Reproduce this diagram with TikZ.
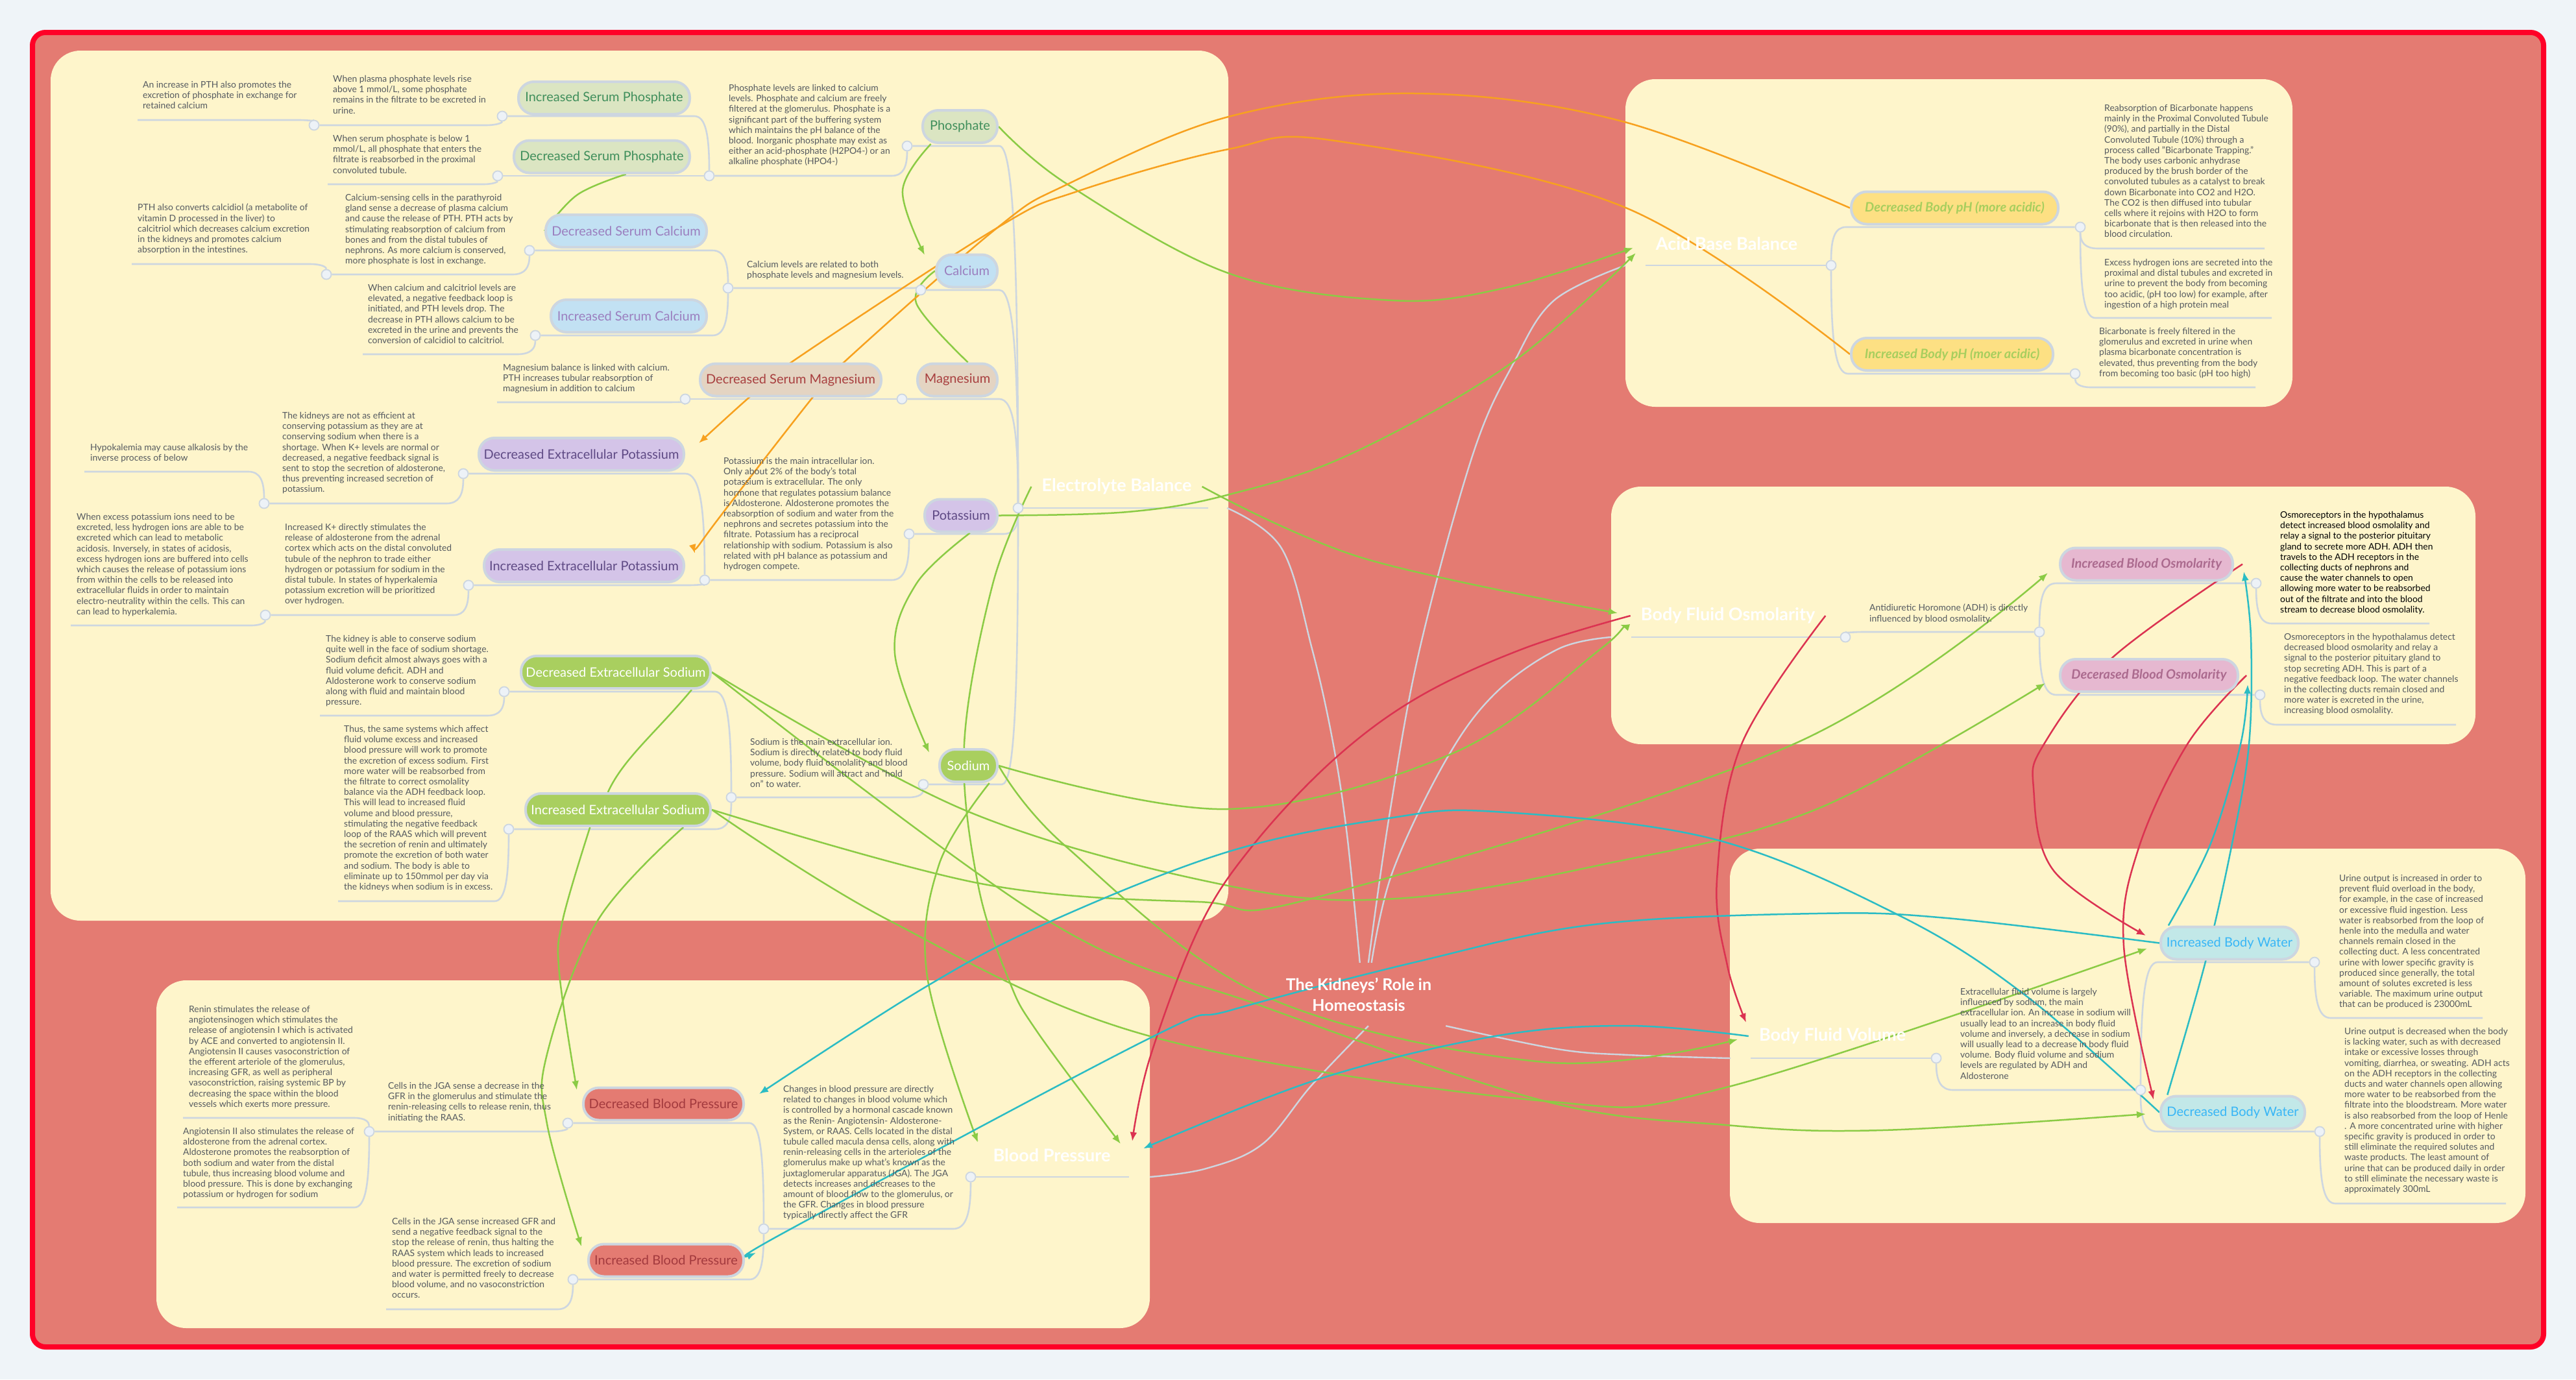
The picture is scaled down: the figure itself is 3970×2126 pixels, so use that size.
\documentclass[tikz,border=0pt]{standalone}
\usepackage{fontspec}
\setmainfont{Lato}
\usetikzlibrary{arrows.meta,calc}

\definecolor{pagebg}{HTML}{EFF4F8}
\definecolor{framered}{HTML}{FF0027}
\definecolor{ground}{HTML}{E47B72}
\definecolor{panelbg}{HTML}{FEF5CB}
\definecolor{branchcol}{HTML}{CDD6E0}
\definecolor{knobcol}{HTML}{EDF2F7}
\definecolor{notecol}{HTML}{555A60}
\definecolor{lgreen}{HTML}{8BCB45}
\definecolor{lred}{HTML}{DB3351}
\definecolor{lteal}{HTML}{2BBCC4}
\definecolor{lorange}{HTML}{F7A11F}
\definecolor{phosfill}{HTML}{DBE5C2}
\definecolor{phostext}{HTML}{408F5C}
\definecolor{calfill}{HTML}{C2E1F3}
\definecolor{caltext}{HTML}{9B7FBF}
\definecolor{magfill}{HTML}{E4D4C2}
\definecolor{magtext}{HTML}{A83F3F}
\definecolor{kfill}{HTML}{D4C4E8}
\definecolor{ktext}{HTML}{5F4A85}
\definecolor{nafill}{HTML}{A9CF5F}
\definecolor{bptext}{HTML}{A33A3E}
\definecolor{phfill}{HTML}{FDE083}
\definecolor{phtext}{HTML}{A7CE5E}
\definecolor{osmfill}{HTML}{E6B8D0}
\definecolor{osmtext}{HTML}{AB6A8E}
\definecolor{waterfill}{HTML}{C2E8E8}
\definecolor{watertext}{HTML}{38B6F6}

\pgfdeclarelayer{panels}
\pgfdeclarelayer{links}
\pgfsetlayers{panels,links,main}

\tikzset{
	panel/.style={fill=panelbg, rounded corners=46pt},
	note/.style={anchor=north west, inner sep=0pt, align=left, text=notecol, font=\fontsize{13.9}{16.2}\selectfont},
	title/.style={inner ysep=0pt, inner xsep=16pt, text=white, font=\fontsize{27}{30}\bfseries\selectfont},
	pill/.style={draw=branchcol, line width=4pt, rounded corners=24pt, minimum height=50pt, inner sep=0pt, font=\fontsize{20}{24}\selectfont},
	phospill/.style={pill, fill=phosfill, text=phostext},
	calpill/.style={pill, fill=calfill, text=caltext},
	magpill/.style={pill, fill=magfill, text=magtext},
	kpill/.style={pill, fill=kfill, text=ktext},
	napill/.style={pill, fill=nafill, text=white},
	bppill/.style={pill, fill=ground, text=bptext},
	phpill/.style={pill, fill=phfill, text=phtext, font=\fontsize{20}{24}\bfseries\itshape\selectfont},
	osmpill/.style={pill, fill=osmfill, text=osmtext, font=\fontsize{20}{24}\bfseries\itshape\selectfont},
	waterpill/.style={pill, fill=waterfill, text=watertext},
	knob/.style={circle, draw=branchcol, fill=knobcol, line width=1.8pt, minimum size=15pt, inner sep=0pt},
	branch/.style={draw=branchcol, line width=2.6pt},
	rootline/.style={draw=branchcol, line width=2.4pt},
	lgr/.style={draw=lgreen, line width=2.5pt},
	lre/.style={draw=lred, line width=2.5pt},
	lte/.style={draw=lteal, line width=2.5pt},
	lor/.style={draw=lorange, line width=2.5pt},
	tip/.style={-{Latex[length=14pt,width=11pt]}}
}

\newcommand{\branchto}[3]{\draw[branch] (#2) -- ($(#1 |- #2)+(#3,0)$) .. controls ($(#1 |- #2)+(0.25*#3,0)$) and ($(#1)!0.7!(#1 |- #2)$) .. (#1);}

\begin{document}
\begin{tikzpicture}[x=1pt, y=-1pt]
	\useasboundingbox (0,0) rectangle (3970,2126);

	\begin{pgfonlayer}{panels}
	\fill[pagebg] (0,0) rectangle (3970,2126);
	\draw[draw=framered, fill=ground, line width=8pt, rounded corners=20pt] (50,50) rectangle (3920,2076);
	\path[panel] (78,78) rectangle (1893,1419);
	\path[panel] (241,1511) rectangle (1772,2047);
	\path[panel] (2505,122) rectangle (3533,627);
	\path[panel] (2483,750) rectangle (3815,1147);
	\path[panel] (2666,1308) rectangle (3892,1885);
	\end{pgfonlayer}

	% topics
	\node[phospill, minimum width=264pt] (incPhos) at (931,151) {Increased Serum Phosphate};
	\node[phospill, minimum width=271pt] (decPhos) at (927.5,241.5) {Decreased Serum Phosphate};
	\node[phospill, minimum width=115pt] (phosphate) at (1479.5,195) {Phosphate};
	\node[calpill, minimum width=248pt] (decCal) at (965,356) {Decreased Serum Calcium};
	\node[calpill, minimum width=240pt] (incCal) at (969,487) {Increased Serum Calcium};
	\node[calpill, minimum width=94pt] (calcium) at (1490,417.5) {Calcium};
	\node[magpill, minimum width=279pt] (decMag) at (1218.5,585.5) {Decreased Serum Magnesium};
	\node[magpill, minimum width=123pt] (magnesium) at (1475.5,585.5) {Magnesium};
	\node[kpill, minimum width=316pt] (decK) at (896,700) {Decreased Extracellular Potassium};
	\node[kpill, minimum width=308pt] (incK) at (900,872) {Increased Extracellular Potassium};
	\node[kpill, minimum width=112pt] (potassium) at (1481,794.5) {Potassium};
	\node[napill, minimum width=292pt] (decNa) at (949,1036) {Decreased Extracellular Sodium};
	\node[napill, minimum width=285pt] (incNa) at (952.5,1248) {Increased Extracellular Sodium};
	\node[napill, minimum width=89pt] (sodium) at (1492.5,1180) {Sodium};
	\node[bppill, minimum width=247pt] (decBP) at (1022.5,1701.5) {Decreased Blood Pressure};
	\node[bppill, minimum width=239pt] (incBP) at (1026.5,1942.5) {Increased Blood Pressure};
	\node[phpill, minimum width=319pt] (decPH) at (3012.5,320.5) {Decreased Body pH (more acidic)};
	\node[phpill, minimum width=311pt] (incPH) at (3008.5,546) {Increased Body pH (moer acidic)};
	\node[osmpill, minimum width=266pt] (incOsm) at (3308,869.5) {Increased Blood Osmolarity};
	\node[osmpill, minimum width=274pt] (decOsm) at (3312,1041) {Decerased Blood Osmolarity};
	\node[waterpill, minimum width=212pt] (incBW) at (3436,1453.5) {Increased Body Water};
	\node[waterpill, minimum width=222pt] (decBW) at (3441,1714.5) {Decreased Body Water};

	% main titles
	\node[title] (elecTitle) at (1721,750) {Electrolyte Balance};
	\node[title] (acidTitle) at (2661,376) {Acid Base Balance};
	\node[title] (osmTitle) at (2663,949) {Body Fluid Osmolarity};
	\node[title] (volTitle) at (2824,1597) {Body Fluid Volume};
	\node[title] (bpTitle) at (1621,1781) {Blood Pressure};
	\node[text=white, align=center, minimum width=268pt, minimum height=97pt, inner sep=0pt, font=\fontsize{25}{32}\bfseries\selectfont] (root) at (2094,1532.5) {The Kidneys' Role in\\Homeostasis};

	% text of the branches
	\node[note] (nIncrease) at (220,125) {An increase in PTH also promotes the\\excretion of phosphate in exchange for\\retained calcium};
	\node[note] (nPlasma) at (513,116) {When plasma phosphate levels rise\\above 1 mmol/L, some phosphate\\remains in the filtrate to be excreted in\\urine.};
	\node[note] (nSerum) at (513,208) {When serum phosphate is below 1\\mmol/L, all phosphate that enters the\\filtrate is reabsorbed in the proximal\\convoluted tubule.};
	\node[note] (nPTH) at (212,314) {PTH also converts calcidiol (a metabolite of\\vitamin D processed in the liver)  to\\calcitriol which decreases calcium excretion\\in the kidneys and promotes calcium\\absorption in the intestines.};
	\node[note] (nSense) at (532,299) {Calcium-sensing cells in the parathyroid\\gland sense a decrease of plasma calcium\\and cause the release of PTH.  PTH acts by\\stimulating reabsorption of calcium from\\bones and from the distal tubules of\\nephrons. As more calcium is conserved,\\more phosphate is lost in exchange.};
	\node[note] (nElev) at (567,438) {When calcium and calcitriol levels are\\elevated,  a negative feedback loop is\\initiated, and PTH levels drop. The\\decrease in PTH allows calcium to be\\excreted in the urine and prevents the\\conversion of calcidiol to calcitriol.};
	\node[note] (nMag) at (775,561) {Magnesium balance is linked with calcium.\\PTH increases tubular reabsorption of\\magnesium in addition to calcium};
	\node[note] (nPhos) at (1123,130) {Phosphate levels are linked to calcium\\levels. Phosphate and calcium are freely\\filtered at the glomerulus. Phosphate is a\\significant part of the buffering system\\which maintains the pH balance of the\\blood. Inorganic phosphate may exist as\\either an acid-phosphate (H2PO4-) or an\\alkaline phosphate (HPO4-)};
	\node[note] (nCal) at (1151,402) {Calcium levels are related to both\\phosphate levels and magnesium levels.};
	\node[note] (nKneg) at (435,635) {The kidneys are not as efficient at\\conserving potassium as they are at\\conserving sodium when there is a\\shortage. When K+ levels are normal or\\decreased, a negative feedback signal is\\sent to stop the secretion of aldosterone,\\thus preventing increased secretion of\\potassium.};
	\node[note] (nHypo) at (139,684) {Hypokalemia may cause alkalosis by the\\inverse process of below};
	\node[note] (nKstim) at (439,807) {Increased K+ directly stimulates the\\release of aldosterone from the adrenal\\cortex which acts on the distal convoluted\\tubule of the nephron to trade either\\hydrogen or potassium for sodium in the\\distal tubule.  In states of hyperkalemia\\potassium excretion will be prioritized\\over hydrogen.};
	\node[note] (nExcess) at (118,791) {When excess potassium ions need to be\\excreted, less hydrogen ions are able to be\\excreted which can lead to metabolic\\acidosis. Inversely, in states of acidosis,\\excess hydrogen ions are buffered into cells\\which causes the release of potassium ions\\from within the cells to be released into\\extracellular fluids in order to maintain\\electro-neutrality within the cells.  This can\\can lead to hyperkalemia.};
	\node[note] (nK) at (1115,705) {Potassium is the main intracellular ion.\\Only about 2\% of the body's total\\potassium is extracellular. The only\\hormone that regulates potassium balance\\is Aldosterone. Aldosterone promotes the\\reabsorption of sodium and water from the\\nephrons and secretes potassium into the\\filtrate. Potassium has a reciprocal\\relationship with sodium. Potassium is also\\related with pH balance as potassium and\\hydrogen compete.};
	\node[note] (nKidney) at (502,979) {The kidney is able to conserve sodium\\quite well in the face of sodium shortage.\\Sodium deficit almost always goes with a\\fluid volume deficit. ADH and\\Aldosterone work to conserve sodium\\along with fluid and maintain blood\\pressure.};
	\node[note] (nThus) at (530,1118) {Thus, the same systems which affect\\fluid volume excess and increased\\blood pressure will work to promote\\the excretion of excess sodium.  First\\more water will be reabsorbed from\\the filtrate to correct osmolality\\balance via the ADH feedback loop.\\This will lead to increased fluid\\volume and blood pressure,\\stimulating the negative feedback\\loop of the RAAS which will prevent\\the secretion of renin and ultimately\\promote the excretion of both water\\and sodium. The body is able to\\eliminate up to 150mmol per day via\\the kidneys when sodium is in excess.};
	\node[note] (nNa) at (1156,1138) {Sodium is the main extracellular ion.\\Sodium is directly related to body fluid\\volume, body fluid osmolality and blood\\pressure. Sodium will attract and "hold\\on" to water.};
	\node[note] (nRenin) at (291,1550) {Renin stimulates the release of\\angiotensinogen which stimulates the\\release of angiotensin I which is activated\\by ACE and converted to angiotensin II.\\Angiotensin II causes vasoconstriction of\\the efferent arteriole of the glomerulus,\\increasing GFR, as well as peripheral\\vasoconstriction, raising systemic BP by\\decreasing the space within the blood\\vessels which exerts more pressure.};
	\node[note] (nAngio) at (282,1738) {Angiotensin II also stimulates the release of\\aldosterone from the adrenal cortex.\\Aldosterone promotes the reabsorption of\\both sodium and water from the distal\\tubule, thus increasing blood volume and\\blood pressure. This is done by exchanging\\potassium or hydrogen for sodium};
	\node[note] (nJGA) at (598,1668) {Cells in the JGA sense a decrease in the\\GFR in the glomerulus and stimulate the\\renin-releasing cells to release renin, thus\\initiating the RAAS.};
	\node[note] (nGFR) at (604,1877) {Cells in the JGA sense increased GFR and\\send a negative feedback signal to the\\stop the release of renin, thus halting the\\RAAS system which leads to increased\\blood pressure. The excretion of sodium\\and water is permitted freely to decrease\\blood volume, and no vasoconstriction\\occurs.};
	\node[note] (nBP) at (1207,1673) {Changes in blood pressure are directly\\related to changes in blood volume which\\is controlled by a hormonal cascade known\\as the Renin- Angiotensin- Aldosterone-\\System, or RAAS. Cells located in the distal\\tubule called macula densa cells, along with\\renin-releasing cells in the arterioles of the\\glomerulus make up what's known as the\\juxtaglomerular apparatus (JGA). The JGA\\detects increases and decreases to the\\amount of blood flow to the glomerulus, or\\the GFR. Changes in blood pressure\\typically directly affect the GFR};
	\node[note] (nReab) at (3243,161) {Reabsorption of Bicarbonate happens\\mainly in the Proximal Convoluted Tubule\\(90\%), and partially in the Distal\\Convoluted Tubule (10\%) through a\\process called "Bicarbonate Trapping."\\The body uses carbonic anhydrase\\produced by the brush border of the\\convoluted tubules as a catalyst to break\\down Bicarbonate into  CO2 and H2O.\\The CO2 is then diffused into tubular\\cells where it rejoins with H2O to form\\bicarbonate that is then released into the\\blood circulation.};
	\node[note] (nExH) at (3243,399) {Excess hydrogen ions are secreted into the\\proximal and distal tubules and excreted in\\urine to prevent the body from becoming\\too acidic, (pH too low) for example, after\\ingestion of a high protein meal};
	\node[note] (nBic) at (3235,505) {Bicarbonate is freely filtered in the\\glomerulus and excreted in urine when\\plasma bicarbonate concentration is\\elevated, thus preventing from the body\\from becoming too basic (pH too high)};
	\node[note] (nADH) at (2881,931) {Antidiuretic Horomone (ADH) is directly\\influenced by blood osmolality.};
	\node[note, text=black] (nOsmA) at (3514,788) {Osmoreceptors in the hypothalamus\\detect increased blood osmolality and\\relay a signal to the posterior pituitary\\gland to secrete more ADH. ADH then\\travels to the ADH receptors in the\\collecting ducts of nephrons and\\cause the water channels to open\\allowing more water to be reabsorbed\\out of the filtrate and into the blood\\stream to decrease blood osmolality.};
	\node[note] (nOsmB) at (3520,976) {Osmoreceptors in the hypothalamus detect\\decreased blood osmolarity and relay a\\signal to the posterior pituitary gland to\\stop secreting ADH. This is part of a\\negative feedback loop. The water channels\\in the collecting ducts remain closed and\\more water is excreted in the urine,\\increasing blood osmolality.};
	\node[note] (nECF) at (3021,1523) {Extracellular fluid volume is largely\\influenced by sodium, the main\\extracellular ion. An increase in sodium will\\usually lead to an increase in body fluid\\volume and inversely, a decrease in sodium\\will usually lead to a decrease in body fluid\\volume. Body fluid volume and sodium\\levels are regulated by ADH and\\Aldosterone};
	\node[note] (nUriA) at (3605,1348) {Urine output is increased in order to\\prevent fluid overload in the body,\\for example, in the case of increased\\or excessive fluid ingestion. Less\\water is reabsorbed from the loop of\\henle into the medulla and water\\channels remain closed in the\\collecting duct. A less concentrated\\urine with lower specific gravity is\\produced since generally, the total\\amount of solutes excreted is less\\variable. The maximum urine output\\that can be produced is 23000mL};
	\node[note] (nUriB) at (3613,1584) {Urine output is decreased when the body\\is lacking water, such as with decreased\\intake or excessive losses through\\vomiting, diarrhea, or sweating. ADH acts\\on the ADH receptors in the collecting\\ducts and water channels open allowing\\more water to be reabsorbed from the\\filtrate into the bloodstream. More water\\is also reabsorbed from the loop of Henle\\. A more concentrated urine with higher\\specific gravity is produced in order to\\still eliminate the required solutes and\\waste products. The least amount of\\urine that can be produced daily in order\\to still eliminate the necessary waste is\\approximately 300mL};

	% knobs of the tree
	\foreach \name/\px/\py in {dIncPhos/774/179, dPlasma/484/193, dDecPhos/767/271, dPhosNote/1093/271, dPhos/1398/225,
		dDecCal/816/386, dCalSense/503/423, dIncCal/825/517, dCalNote/1122/444, dCal/1419/447, dDecMg/1056/615, dMg/1390/615,
		dDecK/714/730, dKneg/407/776, dIncK/722/902, dKstim/409/948, dKNote/1086/894, dK/1401/823,
		dDecNa/777/1066, dIncNa/784/1278, dNaNote/1127/1229, dNa/1423/1209, dElec/1569/783,
		dBP/1496/1814, dBPNote/1177/1894, dDecBP/875/1731, dIncBP/883/1972, dJGA/569/1744,
		dAcid/2822/409, dDecPH/3206/350, dIncPH/3198/576, dOsm/2844/982, dADH/3143/974, dIncOsm/3477/899, dDecOsm/3483/1071,
		dVol/2984/1631, dECF/3299/1680, dIncBW/3567/1483, dDecBW/3575/1744}
		\node[knob] (\name) at (\px,\py) {};

	% free ends of the tree
	\foreach \name/\px/\py in {ePlasma/212/185, eSerum/505/284, ePTH/203/407, eElev/559/546, eMag/766/620, eHypo/130/727, eExcess/109/964,
		eKidney/493/1103, eThus/521/1389, eRenin/282/1723, eAngio/273/1861, eGFR/595/2018, eReab/3490/383, eExH/3501/490, eBic/3476/597,
		eOsmA/3744/961, eOsmB/3785/1117, eUriA/3826/1569, eUriB/3862/1855, elecEnd/1862/783, acidEnd/2536/409, osmEnd/2514/982,
		volEnd/2698/1631, bpEnd/1740/1814, elecRoot/1891/783, acidRoot/2505/409, osmRoot/2483/982, volRoot/2667/1631, bpRoot/1772/1814}
		\coordinate (\name) at (\px,\py);

	% arrow tips
	\foreach \name/\px/\py in {tipCal/1425/393, tipAcidA/2517/382, tipAcidB/2521/390, tipNa/1432/1160, tipOsmA/2493/945, tipOsmB/2497/963,
		tipBPa/1727/1763, tipBPb/1507/1761, tipBPc/1745/1759, tipBPd/1762/1770, tipVolA/2678/1602, tipVolB/2691/1576,
		tipIncOsm/3156/883, tipDecOsm/3152/1053, tipIncBWa/3309/1462, tipDecBWa/3307/1717, tipIncBWb/3307/1442, tipDecBWb/3319/1695,
		tipOsmTealA/3464/1055, tipOsmTealB/3458/881, tipDecBP/1170/1686, tipIncBP/1165/1931, tipDecBPg/889/1680, tipIncBPg/896/1921,
		tipDecK/1077/683, tipIncK/1071/853}
		\coordinate (\name) at (\px,\py);
	\coordinate (incOsmOut) at ([xshift=13pt]incOsm.east);
	\coordinate (decOsmOut) at ([xshift=11pt]decOsm.east);

	\begin{pgfonlayer}{links}
	% tree lines
	\foreach \up/\down/\off in {dPhosNote/dIncPhos/-23, dPhosNote/dDecPhos/-23, dIncPhos/dPlasma/-26, dPlasma/ePlasma/-24, dDecPhos/eSerum/-23,
		dPhos/dPhosNote/-24, dElec/dPhos/-29, dElec/dCal/-29, dElec/dMg/-29, dElec/dK/-23, dElec/dNa/-25,
		dCal/dCalNote/-32, dCalNote/dDecCal/-24, dCalNote/dIncCal/-24, dDecCal/dCalSense/-26, dCalSense/ePTH/-26, dIncCal/eElev/-28,
		dMg/dDecMg/-10, dDecMg/eMag/-28, dK/dKNote/-27, dKNote/dDecK/-30, dKNote/dIncK/-26, dDecK/dKneg/-26, dKneg/eHypo/-24,
		dIncK/dKstim/-23, dKstim/eExcess/-23, dNa/dNaNote/-23, dNaNote/dDecNa/-25, dNaNote/dIncNa/-25, dDecNa/eKidney/-26, dIncNa/eThus/-22,
		dBP/dBPNote/-27, dBPNote/dDecBP/-22, dBPNote/dIncBP/-22, dDecBP/dJGA/-26, dJGA/eRenin/-23, dJGA/eAngio/-23, dIncBP/eGFR/-24,
		dAcid/dDecPH/23, dAcid/dIncPH/26, dDecPH/eReab/27, dDecPH/eExH/23, dIncPH/eBic/25,
		dOsm/dADH/28, dADH/dIncOsm/26, dADH/dDecOsm/26, dIncOsm/eOsmA/24, dDecOsm/eOsmB/26,
		dVol/dECF/26, dECF/dIncBW/26, dECF/dDecBW/26, dIncBW/eUriA/25, dDecBW/eUriB/24}
		\branchto{\up}{\down}{\off}
	\draw[branch] (dElec) -- (elecEnd);
	\draw[branch] (dAcid) -- (acidEnd);
	\draw[branch] (dOsm) -- (osmEnd);
	\draw[branch] (dVol) -- (volEnd);
	\draw[branch] (dBP) -- (bpEnd);

	% from the middle to the five titles
	\draw[rootline] plot[smooth,tension=0.6] coordinates {(root.88) (2076,1287) (2054,1143) (2022,1000) (1975,845) (elecRoot)};
	\draw[rootline] plot[smooth,tension=0.6] coordinates {(root.73) (2141,1258) (2188,1000) (2270,700) (2333,559) (2395,463) (acidRoot)};
	\draw[rootline] plot[smooth,tension=0.6] coordinates {(root.68) (2146,1344) (2228,1172) (2304,1069) (2402,1000) (osmRoot)};
	\draw[rootline] plot[smooth,tension=0.6] coordinates {(root.287) (2022,1672) (1946,1763) (1859,1801) (bpRoot)};
	\draw[rootline] plot[smooth,tension=0.6] coordinates {(root.south east) (2401,1617) (2510,1626) (volRoot)};

	% green
	\draw[lgr,tip] plot[smooth,tension=0.6] coordinates {(phosphate.211) (1391,294) (tipCal)};
	\draw[lgr] plot[smooth,tension=0.6] coordinates {(magnesium.59) (1412,467) (calcium.west)};
	\draw[lgr] plot[smooth,tension=0.6] coordinates {(decPhos.324) (890,300) (decCal.west)};
	\draw[lgr,tip] plot[smooth,tension=0.6] coordinates {(phosphate.east) (1645,284) (1893,421) (2146,463) (2318,444) (tipAcidA)};
	\draw[lgr,tip] plot[smooth,tension=0.6] coordinates {(potassium.east) (1738,789) (1891,763) (2081,700) (2330,559) (tipAcidB)};
	\draw[lgr,tip] plot[smooth,tension=0.6] coordinates {(potassium.297) (1412,900) (1379,1007) (tipNa)};
	\draw[lgr,tip] plot[smooth,tension=0.6] coordinates {(elecTitle.east) (2100,860) (tipOsmA)};
	\draw[lgr,tip] plot[smooth,tension=0.6] coordinates {(elecTitle.west) (1530,900) (1486,1147) (1507,1362) (1555,1511) (1599,1591) (tipBPa)};
	\draw[lgr,tip] plot[smooth,tension=0.6] coordinates {(sodium.east) (1892,1247) (2239,1161) (2467,1000) (tipOsmB)};
	\draw[lgr,tip] plot[smooth,tension=0.6] coordinates {(sodium.east) (1642,1304) (1946,1534) (2380,1637) (tipVolA)};
	\draw[lgr,tip] plot[smooth,tension=0.6] coordinates {(sodium.320) (1447,1333) (1429,1505) (tipBPb)};
	\draw[lgr] (decNa.347) .. controls (1010,1130) and (960,1170) .. (incNa.120);
	\draw[lgr,tip] plot[smooth,tension=0.6] coordinates {(incNa.east) (1512,1362) (1848,1390) (2033,1382) (2764,1147) (tipIncOsm)};
	\draw[lgr,tip] plot[smooth,tension=0.6] coordinates {(decNa.east) (1490,1250) (1892,1365) (2152,1385) (2467,1333) (2800,1247) (tipDecOsm)};
	\draw[lgr,tip] plot[smooth,tension=0.6] coordinates {(incNa.east) (1371,1419) (1772,1597) (2380,1697) (2660,1676) (tipIncBWa)};
	\draw[lgr,tip] plot[smooth,tension=0.6] coordinates {(decNa.east) (1615,1419) (1946,1551) (2380,1697) (2660,1734) (2901,1742) (tipDecBWa)};
	\draw[lgr,tip] plot[smooth,tension=0.6] coordinates {(incNa.212) (867,1419) (862,1500) (tipDecBPg)};
	\draw[lgr,tip] plot[smooth,tension=0.6] coordinates {(incNa.345) (921,1419) (843,1625) (843,1732) (tipIncBPg)};

	% red
	\draw[lre,tip] plot[smooth,tension=0.6] coordinates {(osmTitle.west) (2347,1000) (2185,1075) (2054,1172) (1930,1304) (1848,1430) (1772,1631) (tipBPc)};
	\draw[lre,tip] plot[smooth,tension=0.6] coordinates {(osmTitle.east) (2684,1147) (2646,1356) (2662,1488) (tipVolB)};
	\draw[lre,tip] plot[smooth,tension=0.6] coordinates {(incOsmOut) (3255,1014) (3150,1147) (3134,1215) (3165,1342) (tipIncBWb)};
	\draw[lre,tip] plot[smooth,tension=0.6] coordinates {(decOsmOut) (3371,1147) (3295,1310) (3273,1458) (tipDecBWb)};

	% teal
	\draw[lte,tip] plot[smooth,tension=0.6] coordinates {(incBW.164) (3407,1300) (3453,1147) (tipOsmTealA)};
	\draw[lte,tip] plot[smooth,tension=0.6] coordinates {(decBW.165) (3399,1482) (3440,1300) (3466,1147) (3469,983) (tipOsmTealB)};
	\draw[lte,tip] plot[smooth,tension=0.6] coordinates {(decBW.west) (3120,1533) (2925,1410) (2640,1293) (2304,1251) (2141,1261) (1892,1313) (1615,1422) (1425,1522) (tipDecBP)};
	\draw[lte,tip] plot[smooth,tension=0.6] coordinates {(incBW.west) (3000,1415) (2800,1408) (2456,1425) (2185,1482) (1897,1557) (1772,1600) (1208,1900) (tipIncBP)};
	\draw[lte,tip] plot[smooth,tension=0.6] coordinates {(volTitle.west) (2510,1581) (2304,1597) (2033,1663) (tipBPd)};

	% orange
	\draw[lor,tip] plot[smooth,tension=0.6] coordinates {(decPH.west) (2500,187) (2180,144) (1893,180) (1645,284) (1537,351) (1301,558) (1252,613) (1100,809) (tipIncK)};
	\draw[lor,tip] plot[smooth,tension=0.6] coordinates {(incPH.west) (2505,320) (2058,217) (1893,230) (1660,295) (1537,351) (1220,558) (1154,613) (tipDecK)};
	\end{pgfonlayer}
\end{tikzpicture}
\end{document}
